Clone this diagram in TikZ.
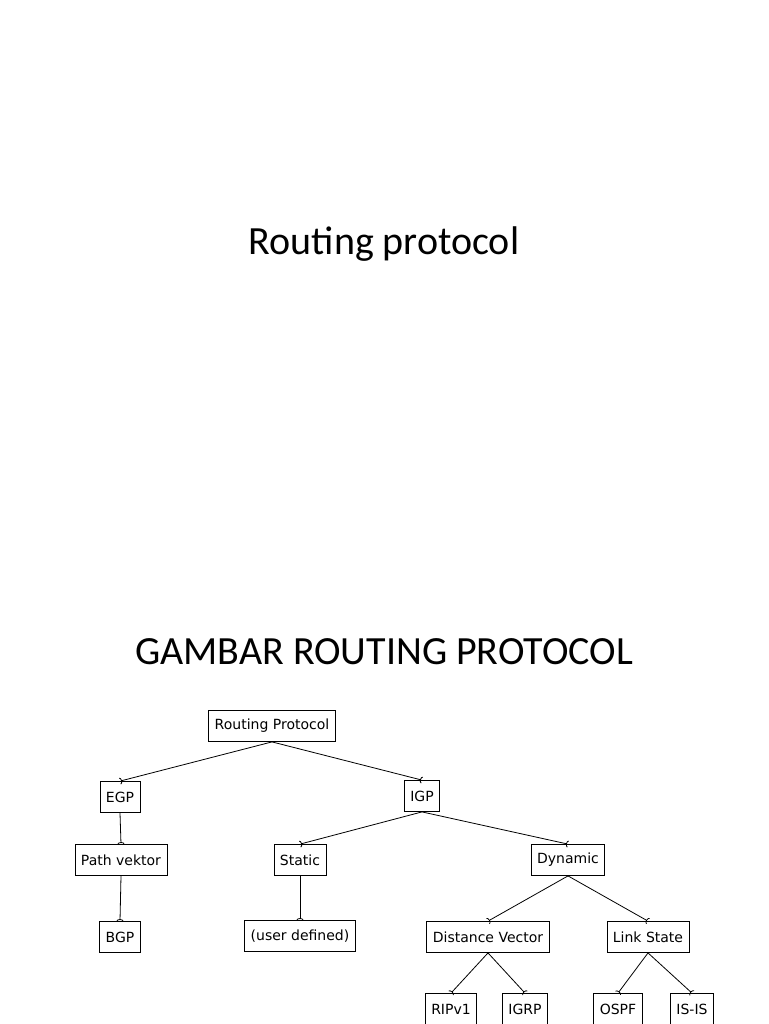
\documentclass[tikz,border=0pt]{standalone}
\usepackage{fontspec}
\setmainfont{Carlito}
\newfontfamily\boxfont{DejaVu Sans}
\usetikzlibrary{arrows.meta}
\begin{document}
\begin{tikzpicture}[x=1pt,y=-1pt]
\tikzstyle{plain}=[draw, thick, font=\boxfont\fontsize{14}{16}\selectfont, minimum height=31pt, inner xsep=6pt]
\tikzstyle{link}=[thick, -{Arc Barb[reversed,length=2pt,width=7pt]}]
\useasboundingbox (0,0) rectangle (768,1024);
\node [font=\fontsize{40}{44}\selectfont] (Title) at (384,244) {Routing protocol};
\node [font=\fontsize{40}{44}\selectfont] (Heading) at (384,652) {GAMBAR ROUTING PROTOCOL};

\node [plain] (RP) at (272,726) {Routing Protocol};
\node [plain] (EGP) at (120,797) {EGP};
\node [plain] (IGP) at (422,796) {IGP};
\node [plain] (PV) at (121,860) {Path vektor};
\node [plain] (St) at (300,860) {Static};
\node [plain] (Dyn) at (568,860) {Dynamic};
\node [plain] (BGP) at (120,937) {BGP};
\node [plain] (UD) at (300,936) {(user defined)};
\node [plain] (DV) at (488,937) {Distance Vector};
\node [plain] (LS) at (648,937) {Link State};
\node [plain] (RIP) at (451,1009) {RIPv1};
\node [plain] (IGRP) at (525,1009) {IGRP};
\node [plain] (OSPF) at (618,1009) {OSPF};
\node [plain] (ISIS) at (692,1009) {IS-IS};

\draw [link] (RP.south) -- (EGP.north);
\draw [link] (RP.south) -- (IGP.north);
\draw [link] (EGP.south) -- (PV.north);
\draw [link] (PV.south) -- (BGP.north);
\draw [link] (IGP.south) -- (St.north);
\draw [link] (IGP.south) -- (Dyn.north);
\draw [link] (St.south) -- (UD.north);
\draw [link] (Dyn.south) -- (DV.north);
\draw [link] (Dyn.south) -- (LS.north);
\draw [link] (DV.south) -- (RIP.north);
\draw [link] (DV.south) -- (IGRP.north);
\draw [link] (LS.south) -- (OSPF.north);
\draw [link] (LS.south) -- (ISIS.north);
\end{tikzpicture}
\end{document}
